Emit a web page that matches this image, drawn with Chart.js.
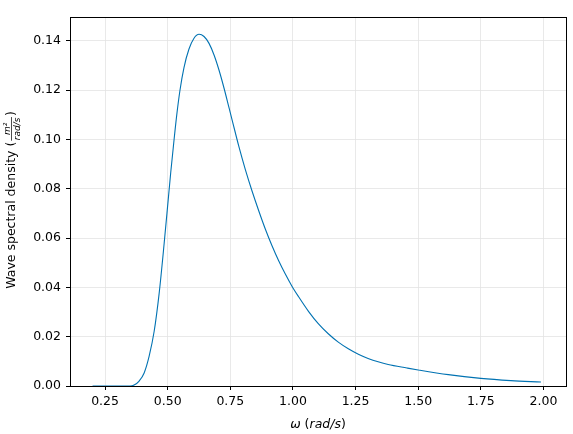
<!DOCTYPE html>
<html>
<head>
<meta charset="utf-8">
<script src="https://cdn.jsdelivr.net/npm/chart.js@4.4.0/dist/chart.umd.min.js"></script>
<style>
  html, body { margin: 0; padding: 0; background: #fff; }
  #wrap { width: 573px; height: 434px; }
</style>
</head>
<body>
<div id="wrap"><canvas id="canvas_spectrum"></canvas></div>
<script>
// values
const omega = [0.20, 0.30, 0.35, 0.366, 0.386, 0.406, 0.426, 0.446, 0.466, 0.486, 0.502,
               0.512, 0.523, 0.535, 0.549, 0.565, 0.585, 0.605, 0.625, 0.645, 0.665, 0.685,
               0.705, 0.725, 0.745, 0.757, 0.784, 0.810, 0.837, 0.863, 0.890, 0.916, 0.943,
               0.969, 0.996, 1.022, 1.062, 1.102, 1.141, 1.181, 1.221, 1.261, 1.300, 1.340,
               1.380, 1.455, 1.500, 1.620, 1.750, 1.870, 1.990];
const density = [0, 0, 0, 0.0004, 0.0020, 0.0053, 0.0121, 0.0222, 0.0377, 0.0580, 0.0755,
                 0.0865, 0.0975, 0.1090, 0.1200, 0.1292, 0.1367, 0.1411, 0.1427, 0.1418, 0.1390, 0.1343,
                 0.1281, 0.1208, 0.1128, 0.1080, 0.0972, 0.0878, 0.0790, 0.0712, 0.0636, 0.0570, 0.0508,
                 0.0455, 0.0405, 0.0363, 0.0303, 0.0252, 0.0212, 0.0178, 0.0151, 0.0129, 0.0112, 0.0098,
                 0.0087, 0.0073, 0.0065, 0.0046, 0.0031, 0.0022, 0.0016];
const xTicks = [0.25, 0.50, 0.75, 1.00, 1.25, 1.50, 1.75, 2.00];
const yTicks = [0, 0.02, 0.04, 0.06, 0.08, 0.10, 0.12, 0.14];

const fonte = 'DejaVu Sans';
const tamanho = 12.5;
const gridOpts = {
    color: '#e3e3e3',
    lineWidth: 0.8,
    borderDash: [3, 2],
    tickColor: '#000',
    tickBorderDash: [],
    tickLength: 4,
    tickWidth: 1,
};

// mede pedacos de texto (normal / italico)
function medirPartes(ctx, partes) {
    ctx.textAlign = 'left';
    ctx.textBaseline = 'alphabetic';
    let total = 0;
    partes.forEach(p => {
        ctx.font = (p.italic ? 'italic ' : '') + tamanho + 'px "' + fonte + '"';
        p.w = ctx.measureText(p.t).width;
        total += p.w;
    });
    return total;
}

// moldura preta + titulos dos eixos (com fracao no eixo y)
const molduraPlugin = {
    id: 'moldura',
    afterDraw(chart) {
        const ctx = chart.ctx;
        const a = chart.chartArea;
        ctx.save();
        ctx.strokeStyle = '#000';
        ctx.lineWidth = 1;
        ctx.strokeRect(Math.round(a.left) + 0.5, Math.round(a.top) + 0.5,
                       Math.round(a.right - a.left), Math.round(a.bottom - a.top));
        ctx.fillStyle = '#000';

        // titulo x
        const partesX = [
            { t: 'ω', italic: true }, { t: ' (', italic: false },
            { t: 'rad/s', italic: true }, { t: ')', italic: false },
        ];
        const totalX = medirPartes(ctx, partesX);
        let x = (a.left + a.right) / 2 - totalX / 2;
        partesX.forEach(p => {
            ctx.font = (p.italic ? 'italic ' : '') + tamanho + 'px "' + fonte + '"';
            ctx.fillText(p.t, x, 428);
            x += p.w;
        });

        // titulo y
        ctx.save();
        ctx.translate(15, 200);
        ctx.rotate(-Math.PI / 2);
        ctx.font = tamanho + 'px "' + fonte + '"';
        const t1 = 'Wave spectral density (';
        const t2 = ')';
        const w1 = ctx.measureText(t1).width;
        const w2 = ctx.measureText(t2).width;
        const fracFont = 'italic 9px "' + fonte + '"';
        ctx.font = fracFont;
        const num = 'm²';
        const den = 'rad/s';
        const wf = Math.max(ctx.measureText(num).width, ctx.measureText(den).width) + 3;
        x = -(w1 + wf + w2) / 2;
        ctx.font = tamanho + 'px "' + fonte + '"';
        ctx.textAlign = 'left';
        ctx.fillText(t1, x, 0);
        x += w1;
        ctx.font = fracFont;
        ctx.textAlign = 'center';
        ctx.fillText(num, x + wf / 2, -5.5);
        ctx.fillText(den, x + wf / 2, 4.5);
        ctx.fillRect(x + 1, -4, wf - 2, 0.7);
        x += wf;
        ctx.font = tamanho + 'px "' + fonte + '"';
        ctx.textAlign = 'left';
        ctx.fillText(t2, x, 0);
        ctx.restore();
        ctx.restore();
    }
};

new Chart(document.getElementById('canvas_spectrum'), {
    type: 'line',
    data: {
        datasets: [{
            data: omega.map((w, i) => ({ x: w, y: density[i] })),
            borderColor: '#0072b2',
            borderWidth: 1.1,
            pointRadius: 0,
            cubicInterpolationMode: 'monotone',
            fill: false,
        }],
    },
    options: {
        responsive: true,
        maintainAspectRatio: false,
        animation: false,
        layout: {
            padding: { top: 17, right: 7, left: 0, bottom: 0 },
        },
        plugins: {
            legend: { display: false },
            tooltip: { enabled: false },
        },
        scales: {
            x: {
                type: 'linear',
                min: 0.11,
                max: 2.09,
                afterBuildTicks: (scale) => { scale.ticks = xTicks.map(v => ({ value: v })); },
                afterFit: (scale) => { scale.height = 48; },
                grid: gridOpts,
                border: { display: false },
                ticks: {
                    color: '#000',
                    font: { family: fonte, size: tamanho },
                    padding: 4,
                    maxRotation: 0,
                    callback: (v) => v.toFixed(2),
                },
            },
            y: {
                type: 'linear',
                min: 0,
                max: 0.1497,
                afterBuildTicks: (scale) => { scale.ticks = yTicks.map(v => ({ value: v })); },
                afterFit: (scale) => { scale.width = 70; },
                grid: gridOpts,
                border: { display: false },
                ticks: {
                    color: '#000',
                    font: { family: fonte, size: tamanho },
                    padding: 5,
                    callback: (v) => v.toFixed(2),
                },
            },
        },
    },
    plugins: [molduraPlugin],
});
</script>
</body>
</html>
